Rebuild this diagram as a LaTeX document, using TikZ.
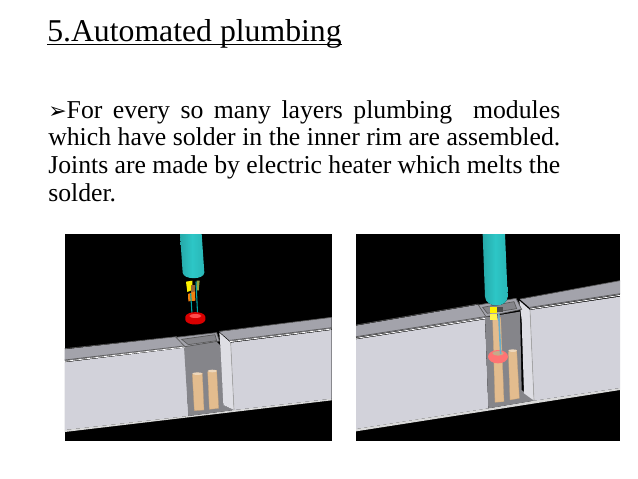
\documentclass[tikz,border=0pt]{standalone}
\usepackage{fontspec}
\setmainfont{Liberation Serif}
\newfontfamily\symbfont{DejaVu Sans}
\usepackage{xcolor}
\definecolor{beamtop}{HTML}{A3A3AB}
\definecolor{beamface}{HTML}{D2D2DA}
\definecolor{beamwall}{HTML}{DEDEE4}
\definecolor{slotgray}{HTML}{85858A}
\definecolor{tubetan}{HTML}{E3BC8E}
\definecolor{headcyan}{HTML}{2DC6C6}
\tikzset{
  beamedge/.style={draw=black!65,line width=.5pt},
  tube/.style={fill=tubetan,draw=tubetan!85!black,line width=.2pt},
  head/.style={left color=headcyan!85!black,right color=headcyan!92!black,middle color=headcyan},
  rod/.style={draw=teal!70!cyan,line width=.8pt}
}
\begin{document}
\begin{tikzpicture}[x=.75pt,y=-.75pt]
\useasboundingbox (0,0) rectangle (638,478);
\fill[white] (0,0) rectangle (638,478);
\node[anchor=base west,inner sep=0pt,font=\fontsize{23.8pt}{28pt}\selectfont] (title) at (47,41.5) {5.Automated plumbing};
\draw[line width=1pt] ([yshift=-2.3pt]title.base west) -- ([yshift=-2.3pt]title.base east);
\node[anchor=north west,inner sep=0pt,text width=384pt,align=justify,font=\fontsize{19.3pt}{20.8pt}\selectfont] (body) at (48,100)
  {{\symbfont\fontsize{16.5pt}{16.5pt}\selectfont ➢}For every so many layers plumbing\ \ modules\linebreak which have solder in the inner rim are assembled.\linebreak Joints are made by electric heater which melts the\linebreak solder.};

\begin{scope}[shift={(60,230)},x=.25pt,y=-.25pt]
\fill[black] (14,12) rectangle (815,632);
\fill[beamtop] (14,358) -- (350,320) -- (375,350) -- (14,392) -- cycle;
\fill[beamface] (14,397) -- (375,353) -- (385,558) -- (14,600) -- cycle;
\fill[white!70!gray] (14,600) -- (385,558) -- (522,540) -- (815,506) -- (815,511) -- (385,562) -- (14,606) -- cycle;
\fill[slotgray] (372,350) -- (470,335) -- (485,350) -- (490,525) -- (522,540) -- (385,558) -- cycle;
\fill[beamwall] (478,308) -- (512,338) -- (522,540) -- (490,525) -- (482,360) -- cycle;
\fill[beamface] (512,338) -- (815,300) -- (815,506) -- (522,540) -- cycle;
\fill[beamtop] (478,305) -- (815,262) -- (815,295) -- (510,333) -- cycle;
\draw[beamedge] (14,356) -- (350,320);
\draw[white,line width=.6pt] (14,394) -- (375,351);
\draw[beamedge] (14,390) -- (372,348);
\draw[beamedge] (478,304) -- (815,262);
\draw[white,line width=.6pt] (510,335) -- (815,297);
\draw[beamedge] (510,331) -- (815,293);
\draw[beamedge,draw=black!35] (512,338) -- (522,540);
\draw[beamedge,fill=beamtop] (348,322) -- (470,308) -- (478,333) -- (375,350) -- cycle;
\draw[beamedge,fill=slotgray] (365,328) -- (465,314) -- (470,332) -- (385,344) -- cycle;
\draw[tube] (397,433) -- (427,429) -- (432,540) -- (403,542) -- cycle;
\draw[tube] (443,425) -- (470,421) -- (476,535) -- (448,538) -- cycle;
\fill[tubetan!60!white] (412,431) ellipse (15 and 4);
\fill[tubetan!60!white] (457,423) ellipse (14 and 4);
\fill[head] (360,12) -- (425,12) -- (433,128) .. controls (432,150) and (370,150) .. (368,128) -- cycle;
\fill[yellow] (378,155) -- (397,152) -- (397,180) -- (382,186) -- cycle;
\fill[yellow!70!green!70!black] (410,152) -- (419,152) -- (416,182) -- (408,180) -- cycle;
\fill[brown!80!black] (392,165) rectangle (405,190);
\fill[orange!80!brown] (384,192) -- (405,184) -- (406,212) -- (385,214) -- cycle;
\draw[rod] (392,190) -- (396,252);
\draw[rod] (408,155) -- (413,258);
\fill[red!85!black] (376,260) -- (376,270) .. controls (380,288) and (432,288) .. (436,270) -- (436,260) .. controls (432,242) and (380,242) .. (376,260) -- cycle;
\fill[red!70!white] (406,258) ellipse (18 and 6);
\end{scope}

\begin{scope}[shift={(350,230)},x=.25pt,y=-.25pt]
\fill[black] (18,12) rectangle (810,632);
\fill[beamtop] (18,287) -- (385,224) -- (410,262) -- (18,322) -- cycle;
\fill[beamface] (18,328) -- (405,268) -- (415,535) -- (18,597) -- cycle;
\fill[white!70!gray] (18,597) -- (415,535) -- (552,512) -- (810,474) -- (810,480) -- (415,542) -- (18,604) -- cycle;
\fill[slotgray] (405,262) -- (510,245) -- (515,480) -- (552,512) -- (415,535) -- cycle;
\fill[beamwall] (508,212) -- (540,240) -- (552,512) -- (522,490) -- (515,270) -- cycle;
\fill[beamface] (540,240) -- (810,200) -- (810,474) -- (552,512) -- cycle;
\fill[beamtop] (510,208) -- (810,152) -- (810,193) -- (540,234) -- cycle;
\draw[beamedge] (18,285) -- (385,222);
\draw[white,line width=.6pt] (18,325) -- (405,265);
\draw[beamedge] (18,320) -- (405,260);
\draw[beamedge] (510,207) -- (810,152);
\draw[white,line width=.6pt] (540,237) -- (810,196);
\draw[beamedge] (540,232) -- (810,191);
\draw[beamedge,draw=black!35] (540,240) -- (552,512);
\draw[beamedge,fill=beamtop] (385,225) -- (498,205) -- (515,238) -- (408,260) -- cycle;
\draw[beamedge,fill=slotgray] (398,232) -- (492,215) -- (500,236) -- (412,250) -- cycle;
\draw[tube] (428,270) -- (452,262) -- (462,515) -- (435,517) -- cycle;
\draw[tube] (475,365) -- (500,360) -- (508,505) -- (480,510) -- cycle;
\fill[tubetan!60!white] (488,362) ellipse (13 and 4);
\fill[red!55!white] (444,380) ellipse (30 and 20);
\fill[tubetan!70!gray] (444,370) ellipse (17 and 7);
\draw[rod,cyan!40!teal!70!white,line width=1.2pt] (446,250) -- (452,372);
\fill[yellow] (420,232) rectangle (440,248);
\fill[yellow!70!white] (420,252) rectangle (440,270);
\fill[black!70] (442,232) rectangle (460,245);
\fill[head] (398,12) -- (465,12) -- (473,200) .. controls (472,235) and (407,235) .. (405,200) -- cycle;
\end{scope}
\end{tikzpicture}
\end{document}
